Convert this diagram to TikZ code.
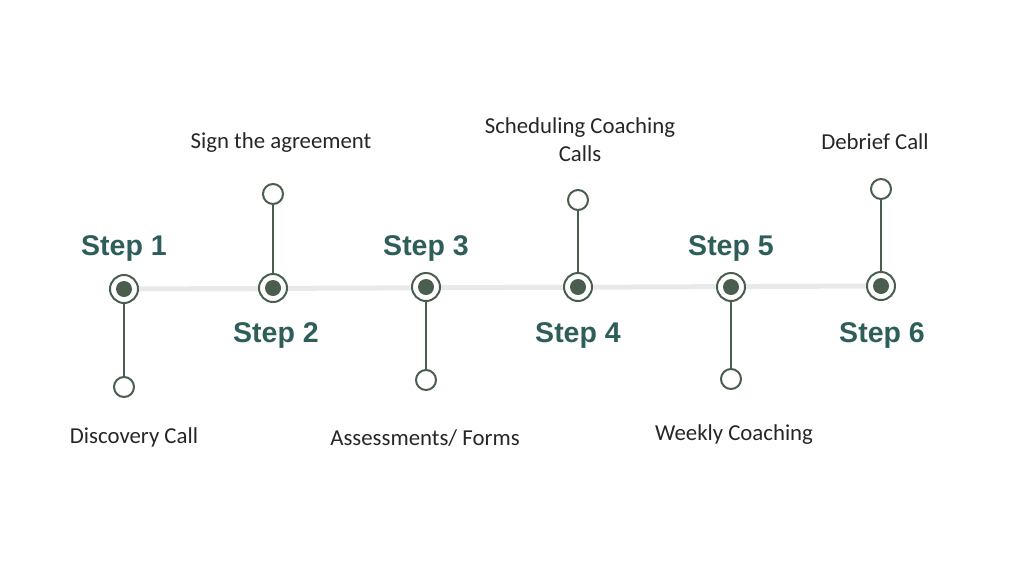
\documentclass[tikz,border=0pt]{standalone}
\usepackage{fontspec}
\setmainfont{Carlito}
\newfontfamily\stepfont{Liberation Sans}
\definecolor{steptxt}{HTML}{2E5E5A}
\definecolor{stemcol}{HTML}{4A5E4E}
\definecolor{track}{HTML}{E9E9E9}
\begin{document}
\begin{tikzpicture}[x=1pt,y=-1pt,
  ring/.style={circle,draw=stemcol,line width=2pt,fill=white,minimum size=28pt,inner sep=0pt},
  dotc/.style={circle,fill=stemcol,minimum size=16pt,inner sep=0pt},
  endc/.style={circle,draw=stemcol,line width=2pt,fill=white,minimum size=20pt,inner sep=0pt},
  stem/.style={draw=stemcol,line width=2.2pt},
  steplbl/.style={font=\stepfont\bfseries\fontsize{28.5}{30}\selectfont,text=steptxt},
  desc/.style={font=\fontsize{22.8}{28}\selectfont,text=black!85,align=center}]
\useasboundingbox (0,0) rectangle (1024,576);
% track
\coordinate (t1) at (124,289);
\coordinate (t6) at (881,286);
\draw[track,line width=5pt] (t1) -- (t6);
% stems
\coordinate (c1) at (124,289);
\coordinate (c2) at (273,288);
\coordinate (c3) at (426,287);
\coordinate (c4) at (578,287);
\coordinate (c5) at (731,287);
\coordinate (c6) at (881,286);
\coordinate (e1) at (124,387);
\coordinate (e2) at (273,194);
\coordinate (e3) at (426,380);
\coordinate (e4) at (578,200);
\coordinate (e5) at (731,379);
\coordinate (e6) at (881,189);
\foreach \i in {1,...,6}{\draw[stem] (c\i) -- (e\i);}
\foreach \i in {1,...,6}{
  \node[ring] (r\i) at (c\i) {};
  \node[dotc] (d\i) at (c\i) {};
  \node[endc] (n\i) at (e\i) {};
}
% step labels
\node[steplbl] (s1) at (124,249) {Step 1};
\node[steplbl] (s2) at (276,335) {Step 2};
\node[steplbl] (s3) at (426,249) {Step 3};
\node[steplbl] (s4) at (578,335) {Step 4};
\node[steplbl] (s5) at (731,249) {Step 5};
\node[steplbl] (s6) at (882,335) {Step 6};
% descriptions
\node[desc] (l2) at (281,143) {Sign the agreement};
\node[desc] (l1) at (134,437) {Discovery Call};
\node[desc] (l3) at (425,438) {Assessments/ Forms};
\node[desc] (l4) at (580,140) {Scheduling Coaching\\Calls};
\node[desc] (l5) at (734,435) {Weekly Coaching};
\node[desc] (l6) at (875,142) {Debrief Call};
\end{tikzpicture}
\end{document}
